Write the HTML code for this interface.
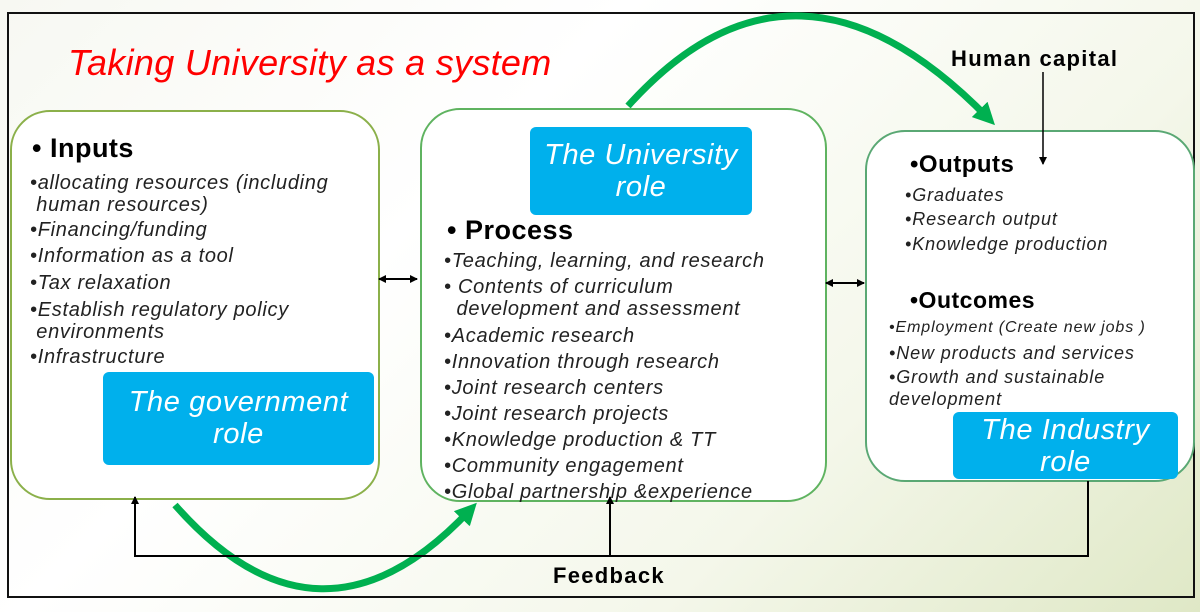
<!DOCTYPE html>
<html><head><meta charset="utf-8"><style>
body{margin:0;width:1200px;height:612px;overflow:hidden;position:relative;font-family:"Liberation Sans",sans-serif;
background:linear-gradient(135deg,#f7f8f2 0%,#ffffff 35%,#f4f7ea 70%,#dfe8c6 100%);}
.a{position:absolute;}
.box{position:absolute;background:#fff;border:2px solid #7fae4a;border-radius:40px;}
.blue{position:absolute;background:#00b0ec;color:#fff;font-style:italic;font-size:29px;letter-spacing:0.6px;text-align:center;line-height:32px;border-radius:6px;}
.it{position:absolute;font-style:italic;font-size:20px;letter-spacing:0.7px;color:#222;line-height:22px;white-space:nowrap;}
.h{position:absolute;font-weight:bold;font-size:27px;letter-spacing:0.5px;color:#000;}
.s{font-size:18px;letter-spacing:0.9px;}
</style></head><body>
<div class="a" style="left:7px;top:12px;width:1184px;height:582px;border:2px solid #111;"></div>
<div class="a" style="left:68px;top:42px;color:#f00;font-style:italic;font-size:36px;letter-spacing:0.3px;">Taking University as a system</div>

<div class="box" style="left:10px;top:110px;width:366px;height:386px;border-color:#8bb04a"></div>
<div class="box" style="left:420px;top:108px;width:403px;height:390px;border-color:#5fb360"></div>
<div class="box" style="left:865px;top:130px;width:326px;height:348px;border-color:#5aa874"></div>

<div class="h" style="left:32px;top:133px;">• Inputs</div>
<div class="it" style="left:30px;top:172px;">•allocating resources (including<br>&nbsp;human resources)</div>
<div class="it" style="left:30px;top:219px;">•Financing/funding</div>
<div class="it" style="left:30px;top:245px;">•Information as a tool</div>
<div class="it" style="left:30px;top:272px;">•Tax relaxation</div>
<div class="it" style="left:30px;top:299px;">•Establish regulatory policy<br>&nbsp;environments</div>
<div class="it" style="left:30px;top:346px;">•Infrastructure</div>
<div class="blue" style="left:103px;top:372px;width:271px;height:93px;padding-top:14px;box-sizing:border-box;">The government<br>role</div>

<div class="blue" style="left:530px;top:127px;width:222px;height:88px;padding-top:12px;box-sizing:border-box;">The University<br>role</div>
<div class="h" style="left:447px;top:215px;">• Process</div>
<div class="it" style="left:444px;top:250px;">•Teaching, learning, and research</div>
<div class="it" style="left:444px;top:276px;">• Contents of curriculum<br>&nbsp;&nbsp;development and assessment</div>
<div class="it" style="left:444px;top:325px;">•Academic research</div>
<div class="it" style="left:444px;top:351px;">•Innovation through research</div>
<div class="it" style="left:444px;top:377px;">•Joint research centers</div>
<div class="it" style="left:444px;top:403px;">•Joint research projects</div>
<div class="it" style="left:444px;top:429px;">•Knowledge production &amp; TT</div>
<div class="it" style="left:444px;top:455px;">•Community engagement</div>
<div class="it" style="left:444px;top:481px;">•Global partnership &amp;experience</div>

<div class="h" style="left:910px;top:151px;font-size:24px;">•Outputs</div>
<div class="it s" style="left:905px;top:184px;">•Graduates</div>
<div class="it s" style="left:905px;top:208px;">•Research output</div>
<div class="it s" style="left:905px;top:233px;">•Knowledge production</div>
<div class="h" style="left:910px;top:287px;font-size:23px;">•Outcomes</div>
<div class="it" style="left:889px;top:317px;font-size:16px;letter-spacing:0.9px;">•Employment (Create new jobs )</div>
<div class="it s" style="left:889px;top:342px;">•New products and services</div>
<div class="it s" style="left:889px;top:366px;">•Growth and sustainable<br>development</div>
<div class="blue" style="left:953px;top:412px;width:225px;height:67px;padding-top:2px;box-sizing:border-box;">The Industry<br>role</div>

<div class="a" style="left:951px;top:46px;font-weight:bold;font-size:22px;letter-spacing:1.3px;">Human capital</div>
<div class="a" style="left:553px;top:563px;font-weight:bold;font-size:22px;letter-spacing:1.3px;">Feedback</div>

<svg class="a" style="left:0;top:0" width="1200" height="612">
<defs>
<marker id="k" markerWidth="8" markerHeight="8" refX="7" refY="4" orient="auto-start-reverse" markerUnits="userSpaceOnUse"><path d="M0,0L8,4L0,8z" fill="#000"/></marker>
<marker id="g" markerWidth="22" markerHeight="22" refX="12" refY="11" orient="auto" markerUnits="userSpaceOnUse"><path d="M0,0L22,11L0,22z" fill="#00b050"/></marker>
</defs>
<path d="M628,106 Q795,-80 988,118" stroke="#00b050" stroke-width="7" fill="none" marker-end="url(#g)"/>
<path d="M175,505 Q320,670 470,510" stroke="#00b050" stroke-width="7" fill="none" marker-end="url(#g)"/>
<line x1="1043" y1="72" x2="1043" y2="164" stroke="#000" stroke-width="1.5" marker-end="url(#k)"/>
<line x1="379" y1="279" x2="417" y2="279" stroke="#000" stroke-width="2" marker-end="url(#k)" marker-start="url(#k)"/>
<line x1="826" y1="283" x2="864" y2="283" stroke="#000" stroke-width="2" marker-end="url(#k)" marker-start="url(#k)"/>
<polyline points="1088,481 1088,556 135,556 135,497" stroke="#000" stroke-width="2" fill="none" marker-end="url(#k)"/>
<line x1="610" y1="556" x2="610" y2="497" stroke="#000" stroke-width="2" marker-end="url(#k)"/>
</svg>
</body></html>
